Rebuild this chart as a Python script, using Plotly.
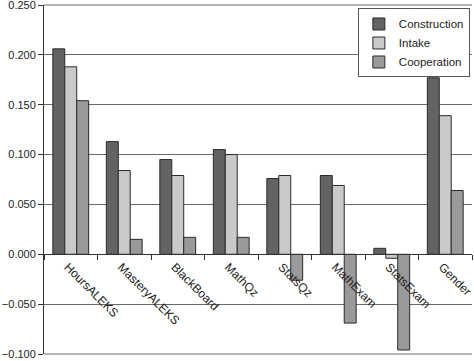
import plotly.graph_objects as go

categories = ["HoursALEKS", "MasteryALEKS", "BlackBoard", "MathQz", "StatsQz", "MathExam", "StatsExam", "Gender"]
construction = [0.206, 0.113, 0.095, 0.105, 0.076, 0.079, 0.006, 0.177]
intake = [0.188, 0.084, 0.079, 0.100, 0.079, 0.069, -0.004, 0.139]
cooperation = [0.154, 0.015, 0.017, 0.017, -0.026, -0.069, -0.096, 0.064]
y_ticks = [-0.1, -0.05, 0.0, 0.05, 0.1, 0.15, 0.2, 0.25]

ymin, ymax = -0.1, 0.25

fig = go.Figure()
line = dict(color="#2a2a2a", width=1)
fig.add_bar(x=categories, y=construction, name="Construction", marker=dict(color="#636363", line=line))
fig.add_bar(x=categories, y=intake, name="Intake", marker=dict(color="#c9c9c9", line=line))
fig.add_bar(x=categories, y=cooperation, name="Cooperation", marker=dict(color="#9a9a9a", line=line))

font = dict(family="Liberation Sans, Arial, sans-serif", size=11, color="#222222")
fig.update_layout(
    width=474, height=361,
    margin=dict(l=44, r=2, t=5, b=7, autoexpand=False),
    paper_bgcolor="white", plot_bgcolor="white",
    barmode="group", bargap=0.33, bargroupgap=0,
    font=font,
    showlegend=True,
    legend=dict(x=0.995, y=0.99, xanchor="right", yanchor="top",
                bgcolor="white", bordercolor="#555555", borderwidth=1,
                font=dict(family="Liberation Sans, Arial, sans-serif", size=11.5, color="#222222"),
                itemwidth=30, tracegroupgap=0),
    xaxis=dict(anchor="free", position=(0 - ymin) / (ymax - ymin),
               showline=True, linecolor="#333333", linewidth=1,
               ticks="outside", tickson="boundaries", ticklen=5, tickcolor="#333333",
               tickangle=45, showgrid=False, automargin=False,
               tickfont=dict(size=12), ticklabelshift=-3,
               range=[-0.5, len(categories) - 0.5]),
    yaxis=dict(range=[ymin, ymax], tickvals=y_ticks, tickformat=".3f",
               showline=True, linecolor="#333333", linewidth=1,
               ticks="outside", ticklen=5, tickcolor="#333333",
               showgrid=True, gridcolor="#6a6a6a", gridwidth=1,
               zeroline=False, automargin=False, ticklabeloverflow="allow"),
    shapes=[dict(type="line", xref="paper", yref="paper", x0=0, x1=1, y0=1, y1=1,
                 line=dict(color="#6a6a6a", width=1)),
            dict(type="line", xref="paper", yref="paper", x0=0, x1=1, y0=0, y1=0,
                 line=dict(color="#6a6a6a", width=1))],
)
fig.write_html("out.html", config={"displayModeBar": False},
               post_script="document.body.style.margin='0';document.body.style.overflow='hidden';")
